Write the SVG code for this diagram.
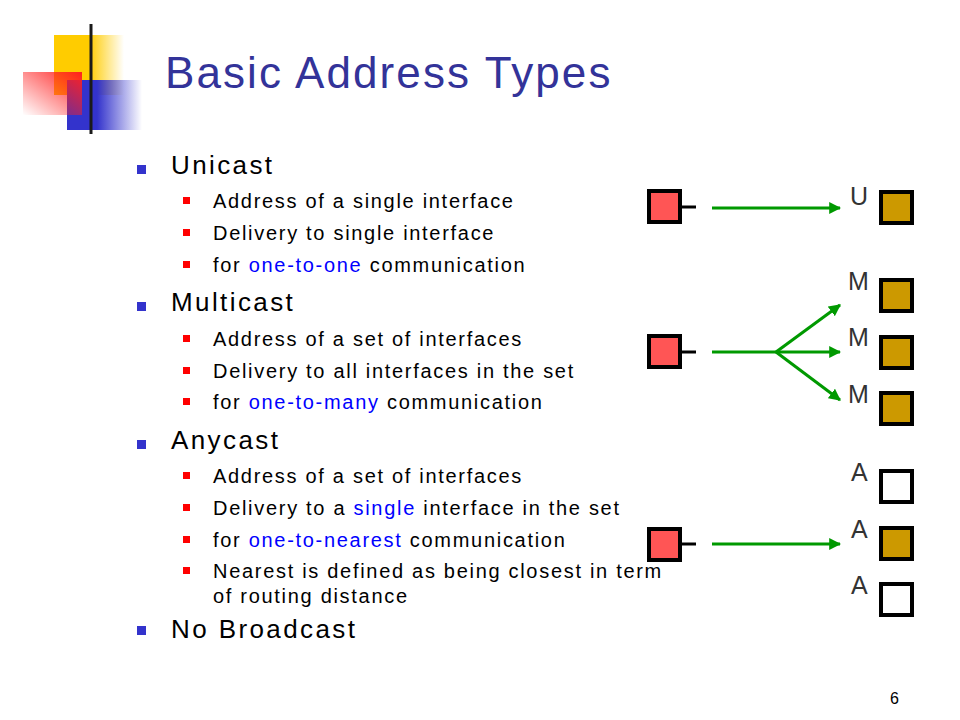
<svg xmlns="http://www.w3.org/2000/svg" width="960" height="720" viewBox="0 0 960 720">
<defs>
<linearGradient id="yg" x1="0" x2="1"><stop offset="0.5" stop-color="#ffcc00"/><stop offset="1" stop-color="#ffcc00" stop-opacity="0"/></linearGradient>
<linearGradient id="bg" x1="0" x2="1"><stop offset="0.4" stop-color="#3333cc"/><stop offset="1" stop-color="#3333cc" stop-opacity="0"/></linearGradient>
<linearGradient id="rg" x1="1" y1="0" x2="0" y2="1"><stop offset="0" stop-color="#ff2020"/><stop offset="1" stop-color="#ff2020" stop-opacity="0"/></linearGradient>
<linearGradient id="lg" x1="0" x2="1"><stop offset="0" stop-color="#333"/><stop offset="1" stop-color="#333" stop-opacity="0.1"/></linearGradient>
<marker id="ah" viewBox="0 0 10 10" refX="9" refY="5" markerWidth="4" markerHeight="4" orient="auto"><path d="M0,0L10,5L0,10z" fill="#009900"/></marker>
<style>
text{font-family:"Liberation Sans",Arial,sans-serif}
.l1{font-size:26px;fill:#000;letter-spacing:2.4px}
.l2{font-size:20px;fill:#000;letter-spacing:1.7px}
.bl{fill:#3333cc}.rd{fill:#ff0000}
.hl{fill:#0000ff}
.src{fill:#ff5555;stroke:#000;stroke-width:4}
.gd{fill:#cc9900;stroke:#000;stroke-width:4}
.wt{fill:#fff;stroke:#000;stroke-width:4}
.lab{font-size:25px;fill:#333}
.ar{stroke:#009900;stroke-width:3;fill:none;marker-end:url(#ah)}
</style>
</defs>
<rect width="960" height="720" fill="#fff"/>
<g id="logo">
<rect x="54" y="35" width="70" height="60" fill="url(#yg)"/>
<rect x="67" y="80" width="75" height="50" fill="url(#bg)"/>
<rect x="23" y="72" width="59" height="43" fill="url(#rg)"/>
<line x1="91" y1="24" x2="91" y2="134" stroke="#1a1a1a" stroke-width="3"/>
<line x1="56" y1="108" x2="960" y2="108" stroke="url(#lg)" stroke-width="3"/>
</g>
<text x="165" y="88" font-size="44" fill="#333399" letter-spacing="2.1">Basic Address Types</text>
<g id="bullets">
<rect x="137" y="165" width="9" height="9" class="bl"/><text x="171" y="174" class="l1">Unicast</text>
<rect x="183" y="197" width="7" height="7" class="rd"/><text x="213" y="208" class="l2">Address of a single interface</text>
<rect x="183" y="229" width="7" height="7" class="rd"/><text x="213" y="240" class="l2">Delivery to single interface</text>
<rect x="183" y="261" width="7" height="7" class="rd"/><text x="213" y="272" class="l2">for <tspan class="hl">one-to-one</tspan> communication</text>
<rect x="137" y="302" width="9" height="9" class="bl"/><text x="171" y="311" class="l1">Multicast</text>
<rect x="183" y="335" width="7" height="7" class="rd"/><text x="213" y="346" class="l2">Address of a set of interfaces</text>
<rect x="183" y="367" width="7" height="7" class="rd"/><text x="213" y="378" class="l2">Delivery to all interfaces in the set</text>
<rect x="183" y="398" width="7" height="7" class="rd"/><text x="213" y="409" class="l2">for <tspan class="hl">one-to-many</tspan> communication</text>
<rect x="137" y="440" width="9" height="9" class="bl"/><text x="171" y="449" class="l1">Anycast</text>
<rect x="183" y="472" width="7" height="7" class="rd"/><text x="213" y="483" class="l2">Address of a set of interfaces</text>
<rect x="183" y="504" width="7" height="7" class="rd"/><text x="213" y="515" class="l2">Delivery to a <tspan class="hl">single</tspan> interface in the set</text>
<rect x="183" y="536" width="7" height="7" class="rd"/><text x="213" y="547" class="l2">for <tspan class="hl">one-to-nearest</tspan> communication</text>
<rect x="183" y="567" width="7" height="7" class="rd"/><text x="213" y="578" class="l2">Nearest is defined as being closest in term</text>
<text x="213" y="603" class="l2">of routing distance</text>
<rect x="137" y="626" width="9" height="9" class="bl"/><text x="171" y="638" class="l1" font-size="25">No Broadcast</text>
</g>
<g id="nodes">
<g id="u-src"><rect x="649" y="191" width="31" height="31" class="src"/><line x1="680" y1="207" x2="696" y2="207" stroke="#000" stroke-width="3"/></g>
<g id="m-src"><rect x="649" y="336" width="31" height="31" class="src"/><line x1="680" y1="352" x2="696" y2="352" stroke="#000" stroke-width="3"/></g>
<g id="a-src"><rect x="649" y="529" width="31" height="31" class="src"/><line x1="680" y1="544" x2="696" y2="544" stroke="#000" stroke-width="3"/></g>
<g id="u1"><text x="850" y="205" class="lab">U</text><rect x="881" y="192" width="31" height="31" class="gd"/></g>
<g id="m1"><text x="848" y="290" class="lab">M</text><rect x="881" y="280" width="31" height="31" class="gd"/></g>
<g id="m2"><text x="848" y="346" class="lab">M</text><rect x="881" y="337" width="31" height="31" class="gd"/></g>
<g id="m3"><text x="848" y="403" class="lab">M</text><rect x="881" y="393" width="31" height="31" class="gd"/></g>
<g id="a1"><text x="851" y="481" class="lab">A</text><rect x="881" y="471" width="31" height="31" class="wt"/></g>
<g id="a2"><text x="851" y="538" class="lab">A</text><rect x="881" y="528" width="31" height="31" class="gd"/></g>
<g id="a3"><text x="851" y="594" class="lab">A</text><rect x="881" y="584" width="31" height="31" class="wt"/></g>
</g>
<g id="connectors">
<line x1="712" y1="208" x2="840" y2="208" class="ar"/>
<line x1="712" y1="352" x2="776" y2="352" stroke="#009900" stroke-width="3"/>
<line x1="776" y1="352" x2="840" y2="305" class="ar"/>
<line x1="776" y1="352" x2="840" y2="352" class="ar"/>
<line x1="776" y1="352" x2="840" y2="400" class="ar"/>
<line x1="712" y1="544" x2="840" y2="544" class="ar"/>
</g>
<text x="890" y="704" font-size="16" fill="#000">6</text>
</svg>
